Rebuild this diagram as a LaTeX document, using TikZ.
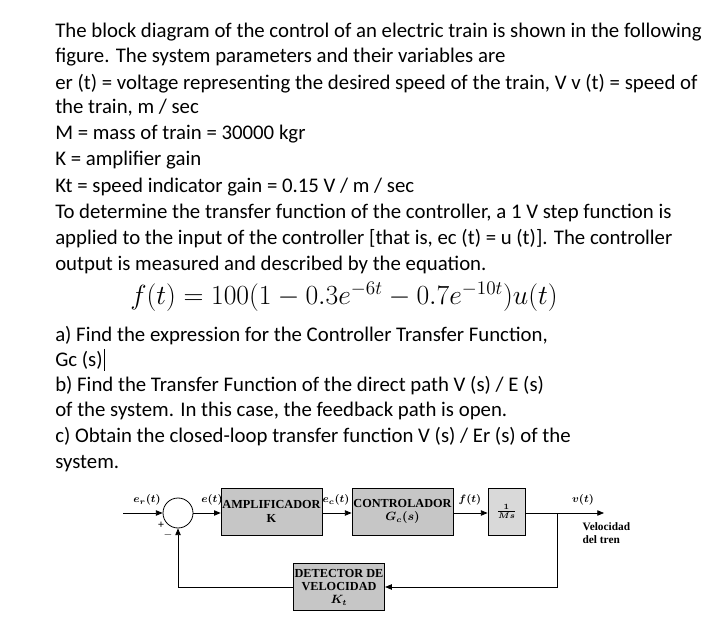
\documentclass[tikz,border=0pt]{standalone}
\usepackage{amsmath,bm}
\usepackage{fontspec}
\setmainfont{Carlito}
\newfontfamily\blk{Liberation Serif}
\usetikzlibrary{arrows.meta}
\begin{document}
\begin{tikzpicture}[x=0.75pt,y=-0.75pt,
  txt/.style={anchor=west,inner sep=0,font=\fontsize{15.6}{18}\selectfont},
  blockbox/.style={draw,fill=gray!45,line width=0.6pt,minimum height=35.25pt,align=center,font=\blk\bfseries\fontsize{9.2}{10}\selectfont,inner sep=1pt},
  lab/.style={font=\blk\bfseries\fontsize{8.5}{9.5}\selectfont,inner sep=1pt},
  ln/.style={line width=0.6pt},
  arr/.style={ln,-{Triangle[length=5pt,width=4pt]}}]
\useasboundingbox (0,0) rectangle (724,630);
\node[txt] (l1) at (55,32) {The block diagram of the control of an electric train is shown in the following};
\node[txt] (l2) at (55,57) {figure. The system parameters and their variables are};
\node[txt] (l3) at (55,84) {er (t) = voltage representing the desired speed of the train, V v (t) = speed of};
\node[txt] (l4) at (55,108) {the train, m / sec};
\node[txt] (l5) at (55,134) {M = mass of train = 30000 kgr};
\node[txt] (l6) at (55,160) {K = amplifier gain};
\node[txt] (l7) at (55,187) {Kt = speed indicator gain = 0.15 V / m / sec};
\node[txt] (l8) at (55,213) {To determine the transfer function of the controller, a 1 V step function is};
\node[txt] (l9) at (55,239) {applied to the input of the controller [that is, ec (t) = u (t)]. The controller};
\node[txt] (l10) at (55,265) {output is measured and described by the equation.};
\node[anchor=west,inner sep=0,font=\fontsize{21}{24}\selectfont] (eq) at (130,297) {$f(t)=100(1-0.3e^{-6t}-0.7e^{-10t})u(t)$};
\node[txt] (l11) at (55,336) {a) Find the expression for the Controller Transfer Function,};
\node[txt] (l12) at (55,360) {Gc (s)};
\draw[line width=0.5pt] (104,349) -- (104,371);
\node[txt] (l13) at (55,386) {b) Find the Transfer Function of the direct path V (s) / E (s)};
\node[txt] (l14) at (55,411) {of the system. In this case, the feedback path is open.};
\node[txt] (l15) at (55,437) {c) Obtain the closed-loop transfer function V (s) / Er (s) of the};
\node[txt] (l16) at (55,464) {system.};
% diagram
\coordinate (in) at (123,513);
\node[draw,circle,minimum size=22.5pt,inner sep=0,line width=0.6pt] (sum) at (178,513) {};
\node[blockbox,minimum width=72.75pt] (amp) at (271.5,511.5) {AMPLIFICADOR\\K};
\node[blockbox,minimum width=75.75pt] (ctl) at (402.5,511.5) {CONTROLADOR\\$\bm{G_c(s)}$};
\node[blockbox,minimum width=27.75pt,fill=gray!30] (ms) at (506.5,511.5) {$\bm{\frac{1}{Ms}}$};
\node[blockbox,minimum width=66pt] (det) at (339,587) {DETECTOR DE\\VELOCIDAD\\$\bm{K_t}$};
\coordinate (br) at (557,513);
\coordinate (out) at (604,513);
\coordinate (cl) at (178,587);
\draw[arr] (in) -- (sum.west);
\draw[arr] (sum.east) -- (amp.west|-sum);
\draw[arr] (amp.east|-sum) -- (ctl.west|-sum);
\draw[arr] (ctl.east|-sum) -- (ms.west|-sum);
\draw[arr] (ms.east|-sum) -- (out);
\draw[arr] (br) |- (det.east|-cl);
\draw[arr] (det.west|-cl) -- (cl) -- (sum.south);
\node[lab] (ler) at (147,500) {$\bm{e_r(t)}$};
\node[lab] (lp) at (161,525) {+};
\node[lab] (lm) at (168,535) {$-$};
\node[lab] (le) at (212,500) {$\bm{e(t)}$};
\node[lab] (lec) at (336,500) {$\bm{e_c(t)}$};
\node[lab] (lf) at (470,500) {$\bm{f(t)}$};
\node[lab] (lv) at (583,500) {$\bm{v(t)}$};
\node[lab,anchor=north west,align=left] (vel) at (581,521) {Velocidad\\del tren};
\end{tikzpicture}
\end{document}
